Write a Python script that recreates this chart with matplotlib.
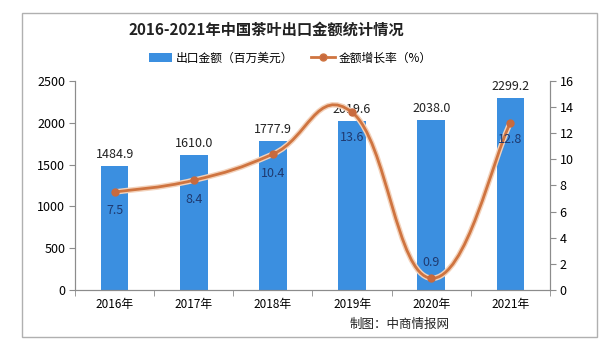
import numpy as np
import matplotlib
matplotlib.use("Agg")
import matplotlib.pyplot as plt
from matplotlib.path import Path
from matplotlib.patches import PathPatch, Rectangle, Patch
from matplotlib.lines import Line2D

plt.rcParams['font.family'] = ['Noto Sans CJK SC', 'DejaVu Sans']

# 数据
years = ['2016年', '2017年', '2018年', '2019年', '2020年', '2021年']
amount = [1484.9, 1610.0, 1777.9, 2019.6, 2038.0, 2299.2]
growth = [7.5, 8.4, 10.4, 13.6, 0.9, 12.8]

bar_color = '#3b8fe0'
line_color = '#cf7440'
label_color = '#1f3a70'
axis_color = '#8c8c8c'

fig = plt.figure(figsize=(6.13, 3.5), dpi=100)
fig.patch.set_facecolor('white')

# 外框
fig.patches.append(Rectangle((22 / 613, 13 / 350), 575 / 613, 324 / 350,
                             transform=fig.transFigure, fill=False,
                             edgecolor='#b0b0b0', linewidth=1.0))

ax = fig.add_axes([75 / 613, 60 / 350, 475 / 613, 209 / 350])
ax2 = ax.twinx()

x = np.arange(len(years))
ax.bar(x, amount, width=0.35, color=bar_color, zorder=2)
ax.set_xlim(-0.5, len(years) - 0.5)
ax.set_ylim(0, 2500)
ax.set_yticks(np.arange(0, 2501, 500))
ax.set_xticks(x)
ax.set_xticklabels(years)
ax.set_xticks(np.arange(-0.5, len(years), 1), minor=True)
ax.tick_params(axis='x', which='major', length=0, pad=6, labelsize=8.5)
ax.tick_params(axis='x', which='minor', length=4, color=axis_color, direction='out')
ax.tick_params(axis='y', length=4, color=axis_color, labelsize=9, pad=3)

for a in (ax, ax2):
    a.spines['top'].set_visible(False)
    a.spines['left'].set_color(axis_color)
    a.spines['right'].set_color(axis_color)
    a.spines['bottom'].set_color(axis_color)

for xi, v in zip(x, amount):
    ax.text(xi, v + 60, f'{v:.1f}', ha='center', va='bottom', fontsize=9,
            color='#222222')

# 增长率平滑曲线 (Catmull-Rom 贝塞尔)
ax2.set_ylim(0, 16)
ax2.set_yticks(np.arange(0, 17, 2))
ax2.tick_params(axis='y', length=4, color=axis_color, labelsize=9, pad=3)

k = 0.22
pts = np.column_stack([x, growth]).astype(float)
verts = [tuple(pts[0])]
codes = [Path.MOVETO]
n = len(pts)
for i in range(n - 1):
    p0 = pts[i - 1] if i > 0 else pts[i]
    p1 = pts[i]
    p2 = pts[i + 1]
    p3 = pts[i + 2] if i + 2 < n else pts[i + 1]
    c1 = p1 + (p2 - p0) * k
    c2 = p2 - (p3 - p1) * k
    verts += [tuple(c1), tuple(c2), tuple(p2)]
    codes += [Path.CURVE4] * 3
path = Path(verts, codes)
ax2.add_patch(PathPatch(path, fill=False, edgecolor='#f3d2bb', linewidth=4.0, zorder=3))
ax2.add_patch(PathPatch(path, fill=False, edgecolor=line_color, linewidth=2.0, zorder=4))
ax2.plot(x, growth, 'o', color='#c86a3e', markersize=5, zorder=5)

offsets = [-1.45, -1.45, -1.45, -1.9, 1.2, -1.3]
for xi, v, off in zip(x, growth, offsets):
    ax2.text(xi, v + off, f'{v}', ha='center', va='center', fontsize=9,
             color=label_color, zorder=6)

# 标题和图例
fig.text(266 / 613, 1 - 30 / 350, '2016-2021年中国茶叶出口金额统计情况',
         ha='center', va='center', fontsize=11, fontweight='bold', color='#222222')

handles = [Patch(facecolor=bar_color, edgecolor='none'),
           Line2D([0], [0], color=line_color, linewidth=2.0, marker='o',
                  markersize=5, markerfacecolor='#c86a3e')]
fig.legend(handles, ['出口金额（百万美元）', '金额增长率（%）'], loc='center',
           bbox_to_anchor=(290 / 613, 1 - 58 / 350), ncol=2, frameon=False,
           fontsize=8.5, handlelength=2.0, columnspacing=1.5, handletextpad=0.3)

fig.text(450 / 613, 1 - 324 / 350, '制图：中商情报网', ha='right', va='center',
         fontsize=9, color='#222222')

fig.savefig('out.png', dpi=100)
